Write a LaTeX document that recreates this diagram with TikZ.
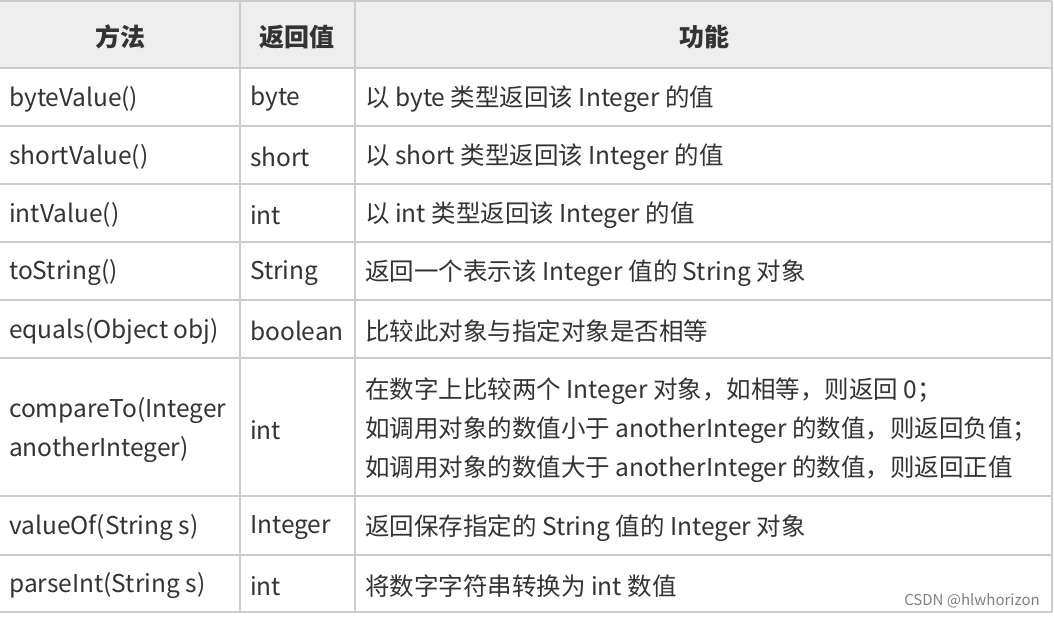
\documentclass[tikz,border=0pt]{standalone}
\usepackage{fontspec}
\setmainfont{Noto Sans CJK SC}
\usetikzlibrary{positioning}
\definecolor{gridgray}{HTML}{CCCCCC}
\definecolor{headgray}{HTML}{EEEEEE}
\definecolor{textgray}{HTML}{333333}
\begin{document}
\begin{tikzpicture}[x=1pt,y=-1pt]
\tikzstyle{cell}=[anchor=west,inner sep=0pt,text=textgray,font=\fontsize{24.5}{31}\selectfont,align=left]
\tikzstyle{head}=[inner sep=0pt,text=textgray,font=\fontsize{25}{28}\selectfont\bfseries]
\tikzstyle{rule}=[draw=gridgray,line width=2pt]

\useasboundingbox (0,0) rectangle (1054,617);
\fill[headgray] (0,1) rectangle (1052,68);
\foreach \y in {1,68,126,184,242,300,358,496,555,612}
  \draw[rule] (0,\y) -- (1052,\y);
\foreach \x in {240,355,1052}
  \draw[rule] (\x,1) -- (\x,612);

\node[head] (h1) at (120,37) {方法};
\node[head] (h2) at (297,37) {返回值};
\node[head] (h3) at (704,37) {功能};

\node[cell] (m1) at (9,99) {byteValue()};
\node[cell] (r1) at (250,99) {byte};
\node[cell] (f1) at (365,99) {以 byte 类型返回该 Integer 的值};
\node[cell] (m2) at (9,157) {shortValue()};
\node[cell] (r2) at (250,157) {short};
\node[cell] (f2) at (365,157) {以 short 类型返回该 Integer 的值};
\node[cell] (m3) at (9,215) {intValue()};
\node[cell] (r3) at (250,215) {int};
\node[cell] (f3) at (365,215) {以 int 类型返回该 Integer 的值};
\node[cell] (m4) at (9,273) {toString()};
\node[cell] (r4) at (250,273) {String};
\node[cell] (f4) at (365,273) {返回一个表示该 Integer 值的 String 对象};
\node[cell] (m5) at (9,331) {equals(Object obj)};
\node[cell] (r5) at (250,331) {boolean};
\node[cell] (f5) at (365,331) {比较此对象与指定对象是否相等};
\node[cell,font=\fontsize{24.5}{39}\selectfont] (m6) at (9,430) {compareTo(Integer\\anotherInteger)};
\node[cell] (r6) at (250,430) {int};
\node[cell,font=\fontsize{24.5}{39}\selectfont] (f6) at (365,430) {在数字上比较两个 Integer 对象，如相等，则返回 0；\\如调用对象的数值小于 anotherInteger 的数值，则返回负值；\\如调用对象的数值大于 anotherInteger 的数值，则返回正值};
\node[cell] (m7) at (9,528) {valueOf(String s)};
\node[cell] (r7) at (250,528) {Integer};
\node[cell] (f7) at (365,528) {返回保存指定的 String 值的 Integer 对象};
\node[cell] (m8) at (9,586) {parseInt(String s)};
\node[cell] (r8) at (250,586) {int};
\node[cell] (f8) at (365,586) {将数字字符串转换为 int 数值};

\node[anchor=east,inner sep=0pt,text=gray,font=\fontsize{15}{17}\selectfont] (mark) at (1040,601) {CSDN @hlwhorizon};
\end{tikzpicture}
\end{document}
